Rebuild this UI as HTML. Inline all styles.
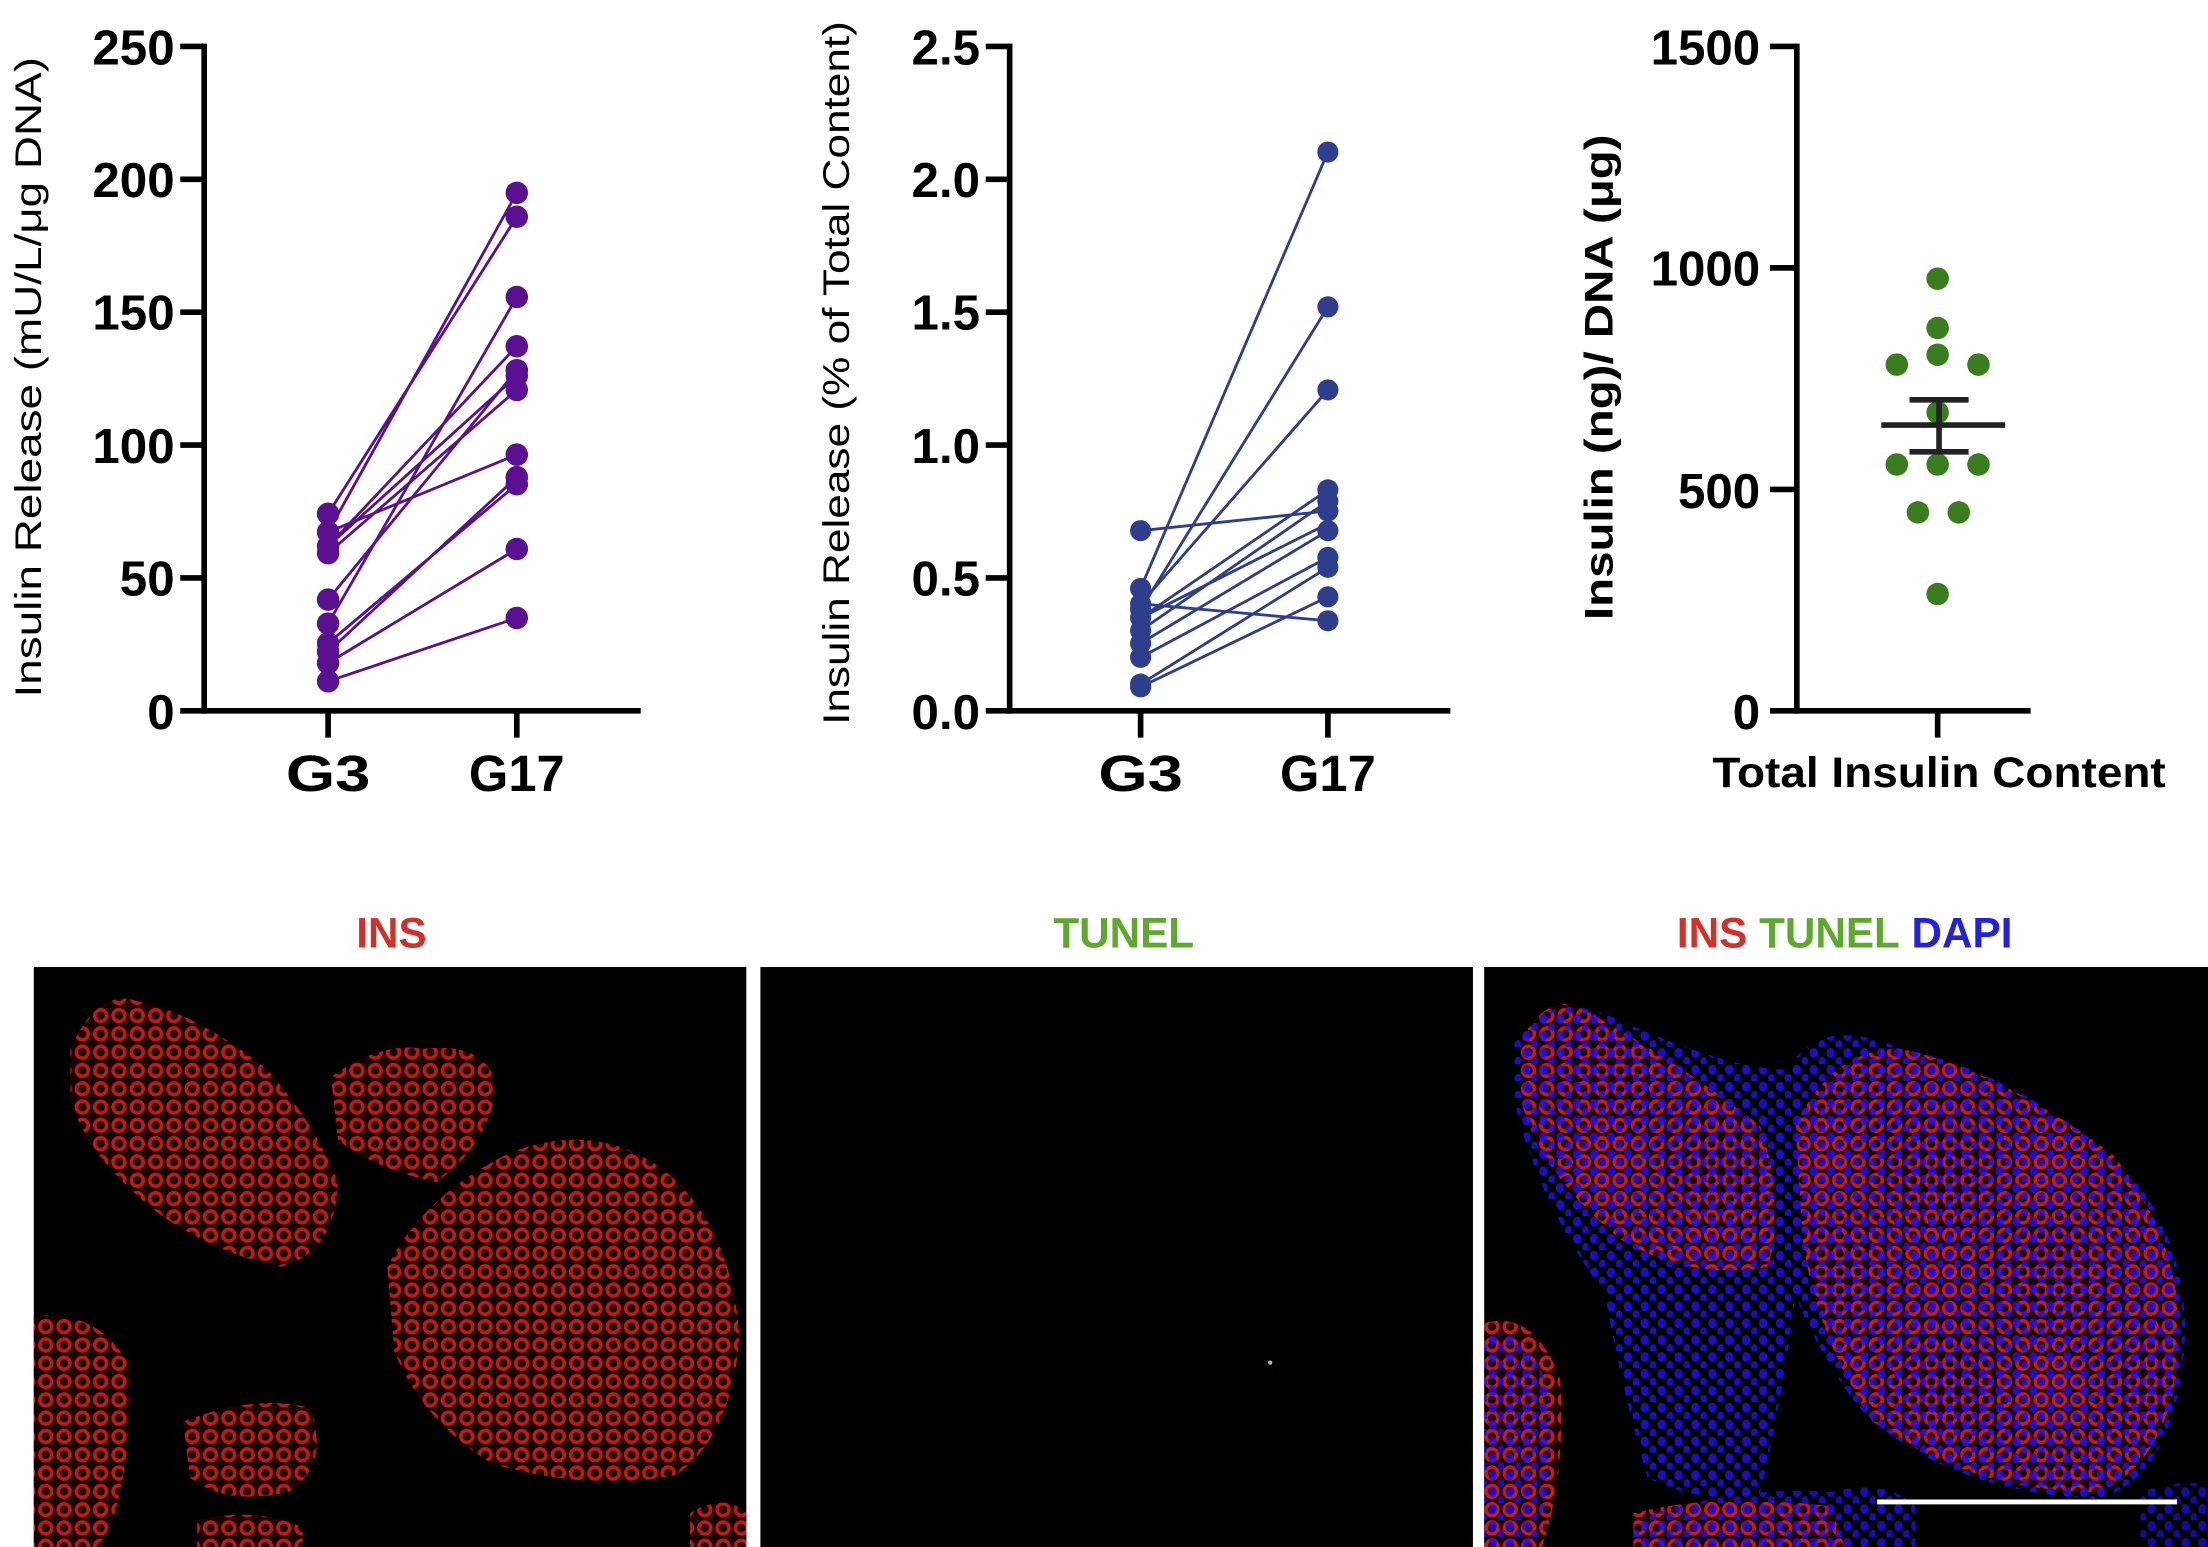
<!DOCTYPE html>
<html><head><meta charset="utf-8"><style>
html,body{margin:0;padding:0;background:#fff;}
svg{display:block;}
text{font-family:"Liberation Sans",Arial,sans-serif;}
</style></head><body>
<svg width="2208" height="1547" viewBox="0 0 1568 1099" preserveAspectRatio="none" xmlns="http://www.w3.org/2000/svg">
<defs>
<pattern id="red" width="13" height="13" patternUnits="userSpaceOnUse">
<rect width="13" height="13" fill="#200000"/>
<circle cx="6.5" cy="6.5" r="4.2" fill="none" stroke="#d8221a" stroke-width="2.6"/>
</pattern>
<pattern id="blue" width="12" height="12" patternUnits="userSpaceOnUse">
<ellipse cx="4" cy="4" rx="3" ry="3.6" fill="#2a10ff"/>
<ellipse cx="10" cy="10" rx="2.6" ry="3.2" fill="#2a10ff"/>
</pattern>
</defs>
<rect width="1568" height="1099" fill="#fff"/>

<!-- Panel 1 -->
<g stroke="#000" stroke-width="4" fill="none">
<line x1="145" y1="31" x2="145" y2="507"/>
<line x1="143" y1="505" x2="455" y2="505"/>
<line x1="128" y1="33" x2="145" y2="33"/><line x1="128" y1="127.4" x2="145" y2="127.4"/><line x1="128" y1="221.8" x2="145" y2="221.8"/><line x1="128" y1="316.2" x2="145" y2="316.2"/><line x1="128" y1="410.6" x2="145" y2="410.6"/><line x1="128" y1="505" x2="145" y2="505"/>
<line x1="233" y1="505" x2="233" y2="524"/><line x1="367" y1="505" x2="367" y2="524"/>
</g>
<g font-size="35" font-weight="bold" text-anchor="end" fill="#000">
<text x="124" y="46">250</text><text x="124" y="140">200</text><text x="124" y="234">150</text><text x="124" y="329">100</text><text x="124" y="423">50</text><text x="124" y="518">0</text>
</g>
<text x="233" y="562" font-size="36" font-weight="bold" text-anchor="middle" textLength="60" lengthAdjust="spacingAndGlyphs">G3</text>
<text x="367" y="562" font-size="36" font-weight="bold" text-anchor="middle" textLength="68" lengthAdjust="spacingAndGlyphs">G17</text>
<text transform="translate(29,268) rotate(-90)" font-size="26" text-anchor="middle" textLength="455" lengthAdjust="spacingAndGlyphs">Insulin Release (mU/L/μg DNA)</text>
<g stroke="#5a1090" stroke-width="2">
<line x1="233" y1="365" x2="367" y2="154"/><line x1="233" y1="378" x2="367" y2="137"/>
<line x1="233" y1="388" x2="367" y2="246"/><line x1="233" y1="393" x2="367" y2="277"/>
<line x1="233" y1="378" x2="367" y2="323"/><line x1="233" y1="426" x2="367" y2="263"/>
<line x1="233" y1="443" x2="367" y2="211"/><line x1="233" y1="457" x2="367" y2="344"/>
<line x1="233" y1="463" x2="367" y2="339"/><line x1="233" y1="471" x2="367" y2="390"/>
<line x1="233" y1="484" x2="367" y2="439"/><line x1="233" y1="388" x2="367" y2="267"/>
</g>
<g fill="#5a1090">
<circle cx="233" cy="365" r="8"/><circle cx="233" cy="378" r="8"/><circle cx="233" cy="388" r="8"/><circle cx="233" cy="393" r="8"/><circle cx="233" cy="426" r="8"/><circle cx="233" cy="443" r="8"/><circle cx="233" cy="457" r="8"/><circle cx="233" cy="463" r="8"/><circle cx="233" cy="471" r="8"/><circle cx="233" cy="484" r="8"/>
<circle cx="367" cy="137" r="8"/><circle cx="367" cy="154" r="8"/><circle cx="367" cy="211" r="8"/><circle cx="367" cy="246" r="8"/><circle cx="367" cy="263" r="8"/><circle cx="367" cy="267" r="8"/><circle cx="367" cy="277" r="8"/><circle cx="367" cy="323" r="8"/><circle cx="367" cy="339" r="8"/><circle cx="367" cy="344" r="8"/><circle cx="367" cy="390" r="8"/><circle cx="367" cy="439" r="8"/>
</g>

<!-- Panel 2 -->
<g stroke="#000" stroke-width="4" fill="none">
<line x1="717" y1="31" x2="717" y2="507"/>
<line x1="715" y1="505" x2="1030" y2="505"/>
<line x1="700" y1="33" x2="717" y2="33"/><line x1="700" y1="127.4" x2="717" y2="127.4"/><line x1="700" y1="221.8" x2="717" y2="221.8"/><line x1="700" y1="316.2" x2="717" y2="316.2"/><line x1="700" y1="410.6" x2="717" y2="410.6"/><line x1="700" y1="505" x2="717" y2="505"/>
<line x1="810" y1="505" x2="810" y2="524"/><line x1="943" y1="505" x2="943" y2="524"/>
</g>
<g font-size="35" font-weight="bold" text-anchor="end" fill="#000">
<text x="696" y="46">2.5</text><text x="696" y="140">2.0</text><text x="696" y="234">1.5</text><text x="696" y="329">1.0</text><text x="696" y="423">0.5</text><text x="696" y="518">0.0</text>
</g>
<text x="810" y="562" font-size="36" font-weight="bold" text-anchor="middle" textLength="60" lengthAdjust="spacingAndGlyphs">G3</text>
<text x="943" y="562" font-size="36" font-weight="bold" text-anchor="middle" textLength="68" lengthAdjust="spacingAndGlyphs">G17</text>
<text transform="translate(603,265) rotate(-90)" font-size="26" text-anchor="middle" textLength="500" lengthAdjust="spacingAndGlyphs">Insulin Release (% of Total Content)</text>
<g stroke="#2e3d8c" stroke-width="2">
<line x1="810" y1="418" x2="943" y2="108"/><line x1="810" y1="433" x2="943" y2="218"/>
<line x1="810" y1="429" x2="943" y2="277"/><line x1="810" y1="377" x2="943" y2="363"/>
<line x1="810" y1="439" x2="943" y2="348"/><line x1="810" y1="448" x2="943" y2="356"/>
<line x1="810" y1="457" x2="943" y2="377"/><line x1="810" y1="467" x2="943" y2="396"/>
<line x1="810" y1="486" x2="943" y2="403"/><line x1="810" y1="488" x2="943" y2="424"/>
<line x1="810" y1="429" x2="943" y2="441"/><line x1="810" y1="439" x2="943" y2="372"/>
</g>
<g fill="#2e3d8c">
<circle cx="810" cy="377" r="7.5"/><circle cx="810" cy="418" r="7.5"/><circle cx="810" cy="429" r="7.5"/><circle cx="810" cy="433" r="7.5"/><circle cx="810" cy="439" r="7.5"/><circle cx="810" cy="448" r="7.5"/><circle cx="810" cy="457" r="7.5"/><circle cx="810" cy="467" r="7.5"/><circle cx="810" cy="486" r="7.5"/><circle cx="810" cy="488" r="7.5"/>
<circle cx="943" cy="108" r="7.5"/><circle cx="943" cy="218" r="7.5"/><circle cx="943" cy="277" r="7.5"/><circle cx="943" cy="348" r="7.5"/><circle cx="943" cy="356" r="7.5"/><circle cx="943" cy="363" r="7.5"/><circle cx="943" cy="377" r="7.5"/><circle cx="943" cy="396" r="7.5"/><circle cx="943" cy="403" r="7.5"/><circle cx="943" cy="424" r="7.5"/><circle cx="943" cy="441" r="7.5"/>
</g>

<!-- Panel 3 -->
<g stroke="#000" stroke-width="4" fill="none">
<line x1="1276" y1="31" x2="1276" y2="507"/>
<line x1="1274" y1="505" x2="1442" y2="505"/>
<line x1="1257" y1="33" x2="1276" y2="33"/><line x1="1257" y1="190.3" x2="1276" y2="190.3"/><line x1="1257" y1="347.7" x2="1276" y2="347.7"/><line x1="1257" y1="505" x2="1276" y2="505"/>
<line x1="1376" y1="505" x2="1376" y2="524"/>
</g>
<g font-size="35" font-weight="bold" text-anchor="end" fill="#000">
<text x="1250" y="46">1500</text><text x="1250" y="203">1000</text><text x="1250" y="361">500</text><text x="1250" y="518">0</text>
</g>
<text x="1377" y="559" font-size="30" font-weight="bold" text-anchor="middle" textLength="322" lengthAdjust="spacingAndGlyphs">Total Insulin Content</text>
<text transform="translate(1145,268) rotate(-90)" font-size="28" font-weight="bold" text-anchor="middle" textLength="345" lengthAdjust="spacingAndGlyphs">Insulin (ng)/ DNA (μg)</text>
<g fill="#3a7d1e">
<circle cx="1376" cy="198" r="8"/><circle cx="1376" cy="233" r="8"/><circle cx="1376" cy="252" r="8"/><circle cx="1347" cy="259" r="8"/><circle cx="1405" cy="259" r="8"/><circle cx="1376" cy="293" r="8"/><circle cx="1347" cy="330" r="8"/><circle cx="1376" cy="330" r="8"/><circle cx="1405" cy="330" r="8"/><circle cx="1362" cy="364" r="8"/><circle cx="1391" cy="364" r="8"/><circle cx="1376" cy="422" r="8"/>
</g>
<g stroke="#222" stroke-width="4">
<line x1="1336" y1="302" x2="1424" y2="302"/>
<line x1="1356" y1="284" x2="1398" y2="284"/><line x1="1356" y1="321" x2="1398" y2="321"/>
<line x1="1377" y1="284" x2="1377" y2="321"/>
</g>

<!-- Bottom titles -->
<text x="278" y="673" font-size="30" font-weight="bold" fill="#d2312a" text-anchor="middle">INS</text>
<text x="798" y="673" font-size="30" font-weight="bold" fill="#5fa82e" text-anchor="middle">TUNEL</text>
<text x="1310" y="673" font-size="30" font-weight="bold" text-anchor="middle"><tspan fill="#d2312a">INS</tspan> <tspan fill="#5fa82e">TUNEL</tspan> <tspan fill="#2222dd">DAPI</tspan></text>

<!-- Image panels -->
<rect x="24" y="687" width="506" height="412" fill="#000"/>
<rect x="540" y="687" width="506" height="412" fill="#000"/>
<rect x="1054" y="687" width="514" height="412" fill="#000"/>

<g fill="url(#red)" opacity="0.85">
<path d="M50,745 Q70,700 100,712 Q140,720 190,760 Q225,800 240,840 Q238,890 200,900 Q150,890 110,860 Q60,820 50,780 Z"/>
<path d="M235,765 Q270,740 300,745 Q345,740 352,770 Q350,810 310,840 Q265,830 240,810 Z"/>
<path d="M275,900 Q300,850 360,820 Q420,795 470,830 Q520,870 525,950 Q520,1020 480,1048 Q420,1060 350,1040 Q300,1010 280,960 Z"/>
<path d="M24,935 Q70,930 92,970 Q95,1030 80,1080 L70,1099 L24,1099 Z"/>
<path d="M130,1010 Q180,990 220,1000 Q235,1040 205,1060 Q160,1070 135,1050 Z"/>
<path d="M140,1080 Q180,1070 215,1085 L215,1099 L140,1099 Z"/>
<path d="M490,1075 Q515,1060 530,1075 L530,1099 L490,1099 Z"/>
</g>

<circle cx="902" cy="968" r="1.5" fill="#9c9"/>

<g opacity="0.9">
<path fill="url(#red)" d="M1080,740 Q1100,700 1130,720 Q1200,760 1250,800 Q1270,860 1255,900 Q1200,910 1150,880 Q1090,830 1080,780 Z"/>
<path fill="url(#red)" d="M1275,800 Q1300,745 1350,745 Q1420,760 1500,820 Q1550,880 1548,960 Q1540,1040 1490,1060 Q1400,1060 1330,1010 Q1290,950 1280,880 Z"/>
<path fill="url(#red)" d="M1054,940 Q1090,930 1108,980 Q1112,1050 1095,1099 L1054,1099 Z"/>
<path fill="url(#red)" d="M1160,1075 Q1220,1060 1300,1070 L1310,1099 L1160,1099 Z"/>
<path fill="url(#blue)" opacity="0.85" d="M1075,740 Q1100,700 1150,725 Q1230,760 1270,760 Q1290,720 1350,745 Q1430,760 1510,830 Q1560,890 1550,970 Q1540,1050 1490,1065 Q1380,1060 1320,1000 Q1290,960 1275,920 Q1265,1000 1250,1060 Q1210,1070 1170,1050 Q1150,980 1140,920 Q1090,850 1075,780 Z"/>
<path fill="url(#blue)" opacity="0.8" d="M1054,950 Q1085,935 1100,990 Q1105,1050 1090,1099 L1054,1099 Z"/>
<path fill="url(#blue)" opacity="0.8" d="M1160,1080 Q1230,1055 1300,1060 Q1340,1050 1360,1070 L1360,1099 L1160,1099 Z"/>
<path fill="url(#blue)" opacity="0.7" d="M1520,1060 Q1550,1050 1568,1055 L1568,1099 L1520,1099 Z"/>
</g>
<line x1="1333" y1="1067" x2="1546" y2="1067" stroke="#fff" stroke-width="3.5"/>
</svg>
</body></html>
